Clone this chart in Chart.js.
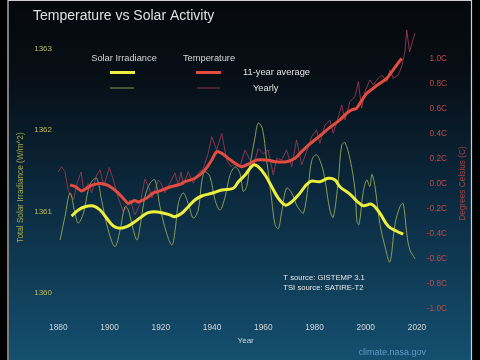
<!DOCTYPE html>
<html><head><meta charset="utf-8">
<script src="https://cdn.jsdelivr.net/npm/chart.js@4/dist/chart.umd.min.js"></script>
<style>html,body{margin:0;padding:0;background:#000;overflow:hidden}canvas{display:block}</style>
</head><body>
<canvas id="c" width="480" height="360"></canvas>
<script>
// ---- tick values ----
const xTicks = [1880, 1900, 1920, 1940, 1960, 1980, 2000, 2020];
const solarTicks = [1360, 1361, 1362, 1363];
const tempTicks = [-1.0, -0.8, -0.6, -0.4, -0.2, 0.0, 0.2, 0.4, 0.6, 0.8, 1.0];

// ---- Temperature, 11-year average (deg C) ----
const tempAvgYears = [1884.6, 1886.5, 1889.1, 1891.2, 1893.5, 1896.3, 1899.4, 1902.2, 1904.7, 1907.3, 1908.6, 1909.9, 1911.2, 1914.5, 1917.1, 1919.7, 1923.6, 1927.5, 1929.4, 1933.3, 1937.2, 1939.9, 1941.8, 1943.8, 1946.3, 1949.0, 1951.6, 1954.8, 1957.4, 1961.3, 1964.6, 1969.1, 1972.4, 1974.3, 1978.2, 1982.1, 1986.0, 1989.9, 1992.5, 1994.5, 1996.4, 1997.7, 2000.4, 2002.9, 2005.5, 2008.2, 2010.7, 2014.0];
const tempAvg = [-0.010, -0.022, -0.058, -0.034, -0.010, 0.002, -0.014, -0.054, -0.102, -0.158, -0.146, -0.134, -0.146, -0.114, -0.074, -0.058, -0.026, -0.006, 0.016, 0.043, 0.110, 0.190, 0.256, 0.243, 0.203, 0.163, 0.136, 0.163, 0.190, 0.190, 0.176, 0.176, 0.203, 0.243, 0.318, 0.382, 0.450, 0.510, 0.563, 0.590, 0.603, 0.643, 0.723, 0.763, 0.803, 0.843, 0.910, 1.003];

// ---- Temperature, yearly (deg C) ----
const tempYearYears = [1880.0, 1881.3, 1882.6, 1883.9, 1885.9, 1887.5, 1888.9, 1890.0, 1891.7, 1893.0, 1895.0, 1896.3, 1897.8, 1899.9, 1901.7, 1903.4, 1905.4, 1908.0, 1909.9, 1911.9, 1913.8, 1915.4, 1916.6, 1917.7, 1919.0, 1920.1, 1921.6, 1923.6, 1925.5, 1926.8, 1927.9, 1928.8, 1930.7, 1932.7, 1934.6, 1936.6, 1938.5, 1939.9, 1941.8, 1943.8, 1945.7, 1947.4, 1949.3, 1950.9, 1952.9, 1954.8, 1956.4, 1958.0, 1960.0, 1961.9, 1963.9, 1965.2, 1967.2, 1969.1, 1971.1, 1973.0, 1975.0, 1976.9, 1978.9, 1980.8, 1982.1, 1984.1, 1986.0, 1987.3, 1989.3, 1990.6, 1991.9, 1993.8, 1995.8, 1997.1, 1998.4, 1999.7, 2001.6, 2002.9, 2004.3, 2006.2, 2008.2, 2009.4, 2010.7, 2012.7, 2014.0, 2015.3, 2016.0, 2017.1, 2019.2];
const tempYear = [0.094, 0.136, 0.096, -0.058, -0.130, 0.014, 0.094, -0.066, 0.003, -0.074, 0.070, 0.110, -0.018, 0.130, 0.014, -0.114, -0.226, -0.130, -0.250, -0.162, 0.038, -0.034, -0.114, -0.050, 0.030, 0.006, -0.074, 0.006, 0.086, -0.010, 0.094, -0.010, 0.096, 0.003, 0.083, 0.123, 0.243, 0.376, 0.270, 0.403, 0.190, 0.136, 0.163, 0.136, 0.270, 0.190, 0.150, 0.283, 0.238, 0.270, 0.070, 0.203, 0.190, 0.270, 0.136, 0.350, 0.150, 0.256, 0.376, 0.430, 0.323, 0.470, 0.510, 0.403, 0.536, 0.630, 0.510, 0.656, 0.696, 0.816, 0.603, 0.736, 0.830, 0.790, 0.830, 0.870, 0.816, 0.910, 0.843, 0.870, 0.936, 1.056, 1.230, 1.054, 1.206];

// ---- Solar irradiance, 11-year average (W/m^2) ----
const solarAvgYears = [1885.2, 1887.8, 1890.4, 1893.7, 1896.3, 1898.9, 1901.5, 1904.1, 1906.7, 1909.9, 1912.5, 1915.1, 1917.7, 1920.3, 1923.6, 1925.5, 1928.2, 1930.7, 1933.3, 1936.0, 1939.9, 1943.8, 1948.3, 1950.3, 1952.9, 1956.1, 1958.0, 1960.7, 1963.3, 1965.9, 1968.5, 1970.4, 1973.7, 1978.2, 1982.1, 1985.4, 1988.0, 1989.9, 1993.8, 1996.4, 1999.0, 2002.3, 2005.5, 2008.8, 2012.1, 2014.6];
const solarAvg = [1360.942, 1361.016, 1361.057, 1361.066, 1361.016, 1360.914, 1360.819, 1360.791, 1360.810, 1360.872, 1360.934, 1360.983, 1360.995, 1360.983, 1360.955, 1360.934, 1360.976, 1361.057, 1361.140, 1361.189, 1361.222, 1361.263, 1361.284, 1361.365, 1361.448, 1361.571, 1361.550, 1361.448, 1361.303, 1361.160, 1361.078, 1361.099, 1361.201, 1361.365, 1361.365, 1361.407, 1361.386, 1361.303, 1361.211, 1361.130, 1361.069, 1361.087, 1360.976, 1360.816, 1360.754, 1360.717];

// ---- Solar irradiance, yearly (W/m^2) ----
const solarYearYears = [1880.7, 1882.6, 1884.6, 1886.5, 1887.8, 1889.8, 1891.7, 1893.0, 1895.0, 1896.9, 1899.5, 1902.1, 1904.1, 1906.0, 1907.3, 1909.3, 1910.7, 1911.9, 1913.8, 1915.8, 1917.7, 1919.7, 1922.3, 1924.4, 1925.7, 1926.9, 1928.8, 1930.7, 1932.7, 1934.6, 1936.0, 1937.2, 1939.2, 1941.2, 1943.1, 1945.1, 1947.0, 1949.0, 1950.9, 1952.2, 1953.5, 1954.8, 1956.8, 1958.0, 1959.6, 1961.3, 1963.3, 1964.6, 1965.9, 1967.2, 1969.1, 1971.1, 1973.0, 1974.3, 1975.7, 1977.6, 1979.0, 1980.8, 1982.8, 1984.1, 1986.0, 1987.3, 1989.3, 1990.6, 1991.9, 1993.9, 1995.8, 1996.6, 1997.4, 1999.0, 2000.4, 2001.6, 2002.4, 2003.6, 2005.5, 2007.5, 2009.4, 2011.4, 2013.3, 2014.6, 2016.0, 2017.2, 2019.2];
const solarYear = [1360.646, 1360.936, 1361.226, 1360.976, 1360.856, 1360.976, 1361.266, 1361.366, 1361.406, 1361.136, 1360.766, 1360.566, 1360.766, 1361.056, 1361.016, 1360.766, 1360.646, 1360.806, 1361.176, 1361.346, 1361.386, 1361.056, 1360.726, 1360.586, 1360.796, 1361.106, 1361.226, 1361.096, 1360.916, 1361.016, 1361.366, 1361.486, 1361.426, 1361.136, 1361.016, 1361.176, 1361.446, 1361.546, 1361.466, 1361.246, 1361.306, 1361.566, 1361.916, 1362.086, 1362.026, 1361.636, 1361.136, 1360.836, 1360.786, 1360.996, 1361.286, 1361.226, 1361.076, 1361.016, 1360.976, 1361.326, 1361.636, 1361.696, 1361.566, 1361.386, 1361.016, 1360.926, 1361.386, 1361.816, 1361.846, 1361.636, 1361.266, 1360.866, 1360.836, 1361.236, 1361.386, 1361.306, 1361.456, 1361.306, 1360.846, 1360.566, 1360.376, 1360.836, 1361.056, 1361.096, 1360.726, 1360.526, 1360.416];

const FONT = '"Liberation Sans", Arial, Helvetica, sans-serif';
const C = {
  yellow: '#eeee3c', olive: 'rgba(150,165,90,0.9)',
  red: '#e44c40', redThin: 'rgba(150,55,78,0.9)',
  solarTick: '#b9b95e', tempTick: '#bf4b4b'
};
const pts = (xs, ys) => xs.map((x, i) => ({x: x, y: ys[i]}));

const bgPlugin = {
  id: 'bg',
  beforeDraw(chart) {
    const ctx = chart.ctx;
    ctx.save();
    ctx.fillStyle = '#000';
    ctx.fillRect(0, 0, 480, 360);
    const g = ctx.createLinearGradient(0, 0, 0, 360);
    g.addColorStop(0, '#06080b');
    g.addColorStop(0.22, '#070f17');
    g.addColorStop(0.55, '#0b2a3f');
    g.addColorStop(1, '#144f6f');
    ctx.fillStyle = g;
    ctx.fillRect(9, 1, 462, 359);
    ctx.strokeStyle = '#cfcfcf';
    ctx.lineWidth = 1.2;
    ctx.beginPath();
    ctx.moveTo(8, 0); ctx.lineTo(8, 360);
    ctx.moveTo(471.5, 0); ctx.lineTo(471.5, 360);
    ctx.moveTo(8, 0.5); ctx.lineTo(471.5, 0.5);
    ctx.stroke();
    ctx.restore();
  }
};

function text(ctx, s, x, y, size, color, align, rot) {
  ctx.save();
  ctx.font = size + 'px ' + FONT;
  ctx.fillStyle = color;
  ctx.textAlign = align || 'left';
  ctx.textBaseline = 'middle';
  ctx.translate(x, y);
  if (rot) ctx.rotate(rot);
  ctx.fillText(s, 0, 0);
  ctx.restore();
}
function seg(ctx, x1, x2, y, w, color) {
  ctx.save();
  ctx.strokeStyle = color; ctx.lineWidth = w; ctx.lineCap = 'butt';
  ctx.beginPath(); ctx.moveTo(x1, y); ctx.lineTo(x2, y); ctx.stroke();
  ctx.restore();
}

const overlayPlugin = {
  id: 'overlay',
  afterDraw(chart) {
    const ctx = chart.ctx;
    ctx.save();
    ctx.font = '14px ' + FONT;
    ctx.fillStyle = '#e0e0e0';
    ctx.textBaseline = 'alphabetic';
    ctx.fillText('Temperature vs Solar Activity', 33, 20);
    ctx.restore();
    text(ctx, 'Solar Irradiance', 124, 58.5, 9.3, '#d6d6d6', 'center');
    text(ctx, 'Temperature', 209, 58.5, 9.3, '#d6d6d6', 'center');
    seg(ctx, 110, 135, 72.5, 3, C.yellow);
    seg(ctx, 196, 221, 72.5, 3, C.red);
    text(ctx, '11-year average', 243, 72.5, 9.3, '#e2e2e2', 'left');
    seg(ctx, 110, 134, 88, 1, C.olive);
    seg(ctx, 197, 220, 88, 1, C.redThin);
    text(ctx, 'Yearly', 253, 88.5, 9.3, '#e2e2e2', 'left');
    text(ctx, 'Total Solar Irradiance (W/m^2)', 20.3, 187.5, 8.2, '#aaaa4c', 'center', -Math.PI / 2);
    text(ctx, 'Degrees Celsius (C)', 462.7, 183.5, 8.3, '#aa4242', 'center', -Math.PI / 2);
    text(ctx, 'Year', 245.7, 341, 8, '#d2d6da', 'center');
    text(ctx, 'T source: GISTEMP 3.1', 283.3, 277.5, 7.7, '#e6e6e6', 'left');
    text(ctx, 'TSI source: SATIRE-T2', 283.3, 287.5, 7.7, '#e6e6e6', 'left');
    text(ctx, 'climate.nasa.gov', 392.3, 352.5, 9, '#5f9cc6', 'center');
  }
};

const noGrid = {display: false, drawTicks: false};

new Chart(document.getElementById('c'), {
  type: 'line',
  data: {
    datasets: [
      {label: 'Solar Irradiance 11-year average', data: pts(solarAvgYears, solarAvg), yAxisID: 'ySolar',
       borderColor: C.yellow, borderWidth: 3, pointRadius: 0, tension: 0.4, clip: false},
      {label: 'Temperature 11-year average', data: pts(tempAvgYears, tempAvg), yAxisID: 'yTemp',
       borderColor: C.red, borderWidth: 3, pointRadius: 0, tension: 0.3, clip: false},
      {label: 'Solar Irradiance yearly', data: pts(solarYearYears, solarYear), yAxisID: 'ySolar',
       borderColor: C.olive, borderWidth: 1, pointRadius: 0, tension: 0.35, clip: false},
      {label: 'Temperature yearly', data: pts(tempYearYears, tempYear), yAxisID: 'yTemp',
       borderColor: C.redThin, borderWidth: 1, pointRadius: 0, tension: 0, clip: false}
    ]
  },
  options: {
    responsive: false, animation: false, devicePixelRatio: 1,
    layout: {padding: {left: 10, right: 33, top: 40, bottom: 0}},
    plugins: {legend: {display: false}, title: {display: false}, tooltip: {enabled: false}},
    scales: {
      x: {
        type: 'linear', min: 1879.1, max: 2021.17,
        grid: noGrid, border: {display: false},
        afterBuildTicks: s => { s.ticks = xTicks.map(v => ({value: v})); },
        afterFit: s => { s.height = 40; },
        ticks: {color: '#d2d6da', font: {family: FONT, size: 8.3}, padding: 3,
                autoSkip: false, maxRotation: 0, callback: v => String(v)}
      },
      ySolar: {
        type: 'linear', position: 'left', min: 1359.660, max: 1363.112,
        grid: noGrid, border: {display: false},
        afterBuildTicks: s => { s.ticks = solarTicks.map(v => ({value: v})); },
        afterFit: s => { s.width = 46; },
        ticks: {color: C.solarTick, font: {family: FONT, size: 8}, padding: 4,
                autoSkip: false, callback: v => String(v)}
      },
      yTemp: {
        type: 'linear', position: 'right', min: -1.0904, max: 1.1496,
        grid: noGrid, border: {display: false},
        afterBuildTicks: s => { s.ticks = tempTicks.map(v => ({value: v})); },
        afterFit: s => { s.width = 27; },
        ticks: {color: C.tempTick, font: {family: FONT, size: 8.3}, padding: 4, crossAlign: 'far',
                autoSkip: false, callback: v => v.toFixed(1) + 'C'}
      }
    }
  },
  plugins: [bgPlugin, overlayPlugin]
});
</script>
</body></html>
